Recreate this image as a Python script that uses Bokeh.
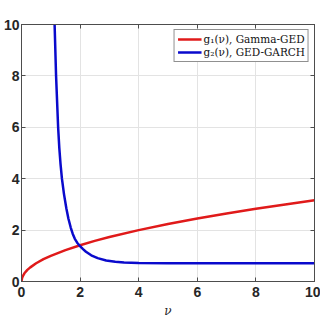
from bokeh.plotting import figure
from bokeh.models import LinearAxis, Range1d, Legend, LegendItem, FixedTicker
from bokeh.embed import file_html
from bokeh.resources import INLINE

# data
nu_red = [0, 0.02, 0.05, 0.1, 0.2, 0.3, 0.5, 0.75, 1.0, 1.5, 2.0, 2.5, 3.0, 4.0, 5.0, 6.0, 7.0, 8.0, 9.0, 10.0]
g1 = [0, 0.14, 0.22, 0.32, 0.45, 0.55, 0.71, 0.87, 1.0, 1.22, 1.41, 1.58, 1.73, 2.0, 2.24, 2.45, 2.65, 2.83, 3.0, 3.16]

nu_blue = [1.10, 1.13, 1.18, 1.25, 1.29, 1.33, 1.38, 1.45, 1.53, 1.60, 1.68, 1.75, 1.82, 1.90, 1.98,
           2.10, 2.20, 2.38, 2.60, 2.89, 3.20, 3.50, 4.0, 5.0, 6.0, 8.0, 10.0]
g2 = [10.8, 10.0, 8.0, 6.0, 5.2, 4.6, 4.0, 3.4, 2.85, 2.45, 2.1, 1.85, 1.66, 1.51, 1.40,
      1.26, 1.16, 1.02, 0.91, 0.82, 0.77, 0.74, 0.72, 0.71, 0.71, 0.71, 0.71]

x_ticks = [0, 2, 4, 6, 8, 10]
y_ticks = [0, 2, 4, 6, 8, 10]
labels = ["g\u2081(\u03bd), Gamma-GED", "g\u2082(\u03bd), GED-GARCH"]

p = figure(width=320, height=320, output_backend="svg", toolbar_location=None,
           x_range=Range1d(0, 10), y_range=Range1d(0, 10),
           min_border_left=20, min_border_right=6, min_border_top=24, min_border_bottom=6)

p.background_fill_color = "white"
p.border_fill_color = "white"
p.outline_line_color = "#4d4d4d"
p.outline_line_width = 1

ax_col = "#4d4d4d"
lab_col = "#262626"
for ax, tk in ((p.xaxis[0], x_ticks), (p.yaxis[0], y_ticks)):
    ax.ticker = FixedTicker(ticks=tk)
    ax.major_tick_in = 4
    ax.major_tick_out = 0
    ax.minor_tick_line_color = None
    ax.axis_line_color = ax_col
    ax.major_tick_line_color = ax_col
    ax.major_label_text_font = "Liberation Sans"
    ax.major_label_text_font_style = "bold"
    ax.major_label_text_font_size = "14px"
    ax.major_label_text_color = lab_col

p.yaxis[0].major_label_standoff = 2
p.xaxis[0].major_label_standoff = 5
p.xaxis[0].axis_label = "\u03bd"
p.xaxis[0].axis_label_text_font = "DejaVu Serif"
p.xaxis[0].axis_label_text_font_style = "italic"
p.xaxis[0].axis_label_text_font_size = "12px"
p.xaxis[0].axis_label_text_color = lab_col
p.xaxis[0].axis_label_standoff = 4

top = LinearAxis(ticker=FixedTicker(ticks=x_ticks),
                 major_label_overrides={t: "" for t in x_ticks},
                 major_tick_in=4, major_tick_out=0, minor_tick_line_color=None,
                 axis_line_color=ax_col, major_tick_line_color=ax_col, major_label_standoff=0)
right = LinearAxis(ticker=FixedTicker(ticks=y_ticks),
                   major_label_overrides={t: "" for t in y_ticks},
                   major_tick_in=4, major_tick_out=0, minor_tick_line_color=None,
                   axis_line_color=ax_col, major_tick_line_color=ax_col, major_label_standoff=0)
p.add_layout(top, "above")
p.add_layout(right, "right")

p.xgrid.ticker = FixedTicker(ticks=x_ticks)
p.ygrid.ticker = FixedTicker(ticks=y_ticks)
p.grid.grid_line_color = "#e3e3e3"
p.grid.grid_line_width = 1

r1 = p.line(nu_red, g1, line_color="#e01a1a", line_width=2.5)
r2 = p.line(nu_blue, g2, line_color="#0a0acc", line_width=2.5)

legend = Legend(items=[LegendItem(label=labels[0], renderers=[r1]),
                       LegendItem(label=labels[1], renderers=[r2])],
                location="top_right")
legend.label_text_font = "DejaVu Serif"
legend.label_text_font_size = "10.5px"
legend.label_text_color = "#111111"
legend.glyph_width = 24
legend.glyph_height = 12
legend.label_height = 12
legend.label_standoff = 2
legend.spacing = 1
legend.padding = 3
legend.margin = 5
legend.border_line_color = "#222222"
legend.border_line_width = 1
legend.background_fill_alpha = 1
p.add_layout(legend)

open("out.html", "w").write(file_html(p, INLINE))
